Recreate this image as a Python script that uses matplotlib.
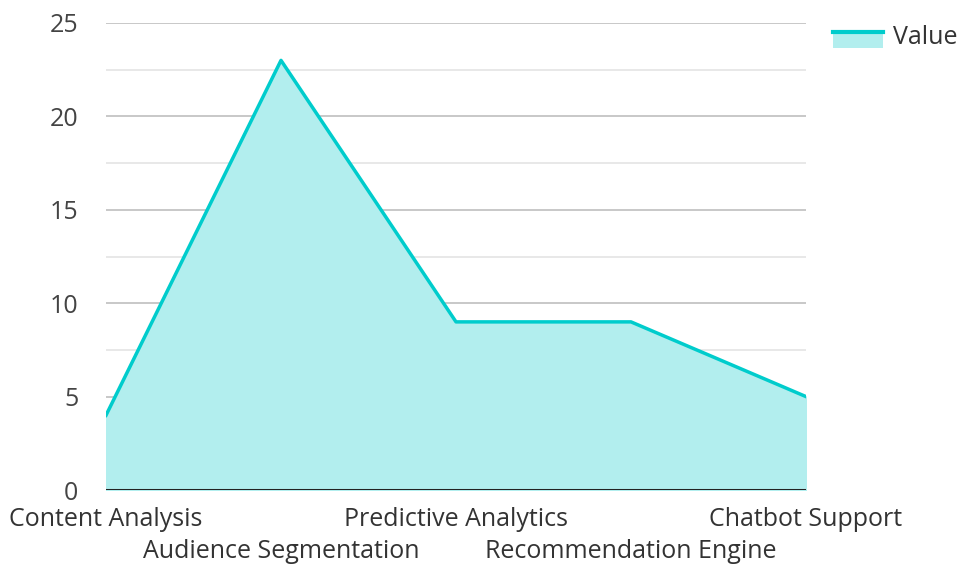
import matplotlib.pyplot as plt
from matplotlib.patches import Patch, Rectangle
from matplotlib.lines import Line2D
from matplotlib.legend_handler import HandlerBase

categories = ["Content Analysis", "Audience Segmentation", "Predictive Analytics",
              "Recommendation Engine", "Chatbot Support"]
values = [4, 23, 9, 9, 5]
y_ticks = [0, 5, 10, 15, 20, 25]

LINE = "#00cccc"
FILL = "#b2eeee"

plt.rcParams['font.family'] = ['Open Sans', 'DejaVu Sans']


class AreaHandler(HandlerBase):
    # filled box with the line along its top edge
    def create_artists(self, legend, orig_handle, xdescent, ydescent,
                       width, height, fontsize, trans):
        rect = Rectangle((-xdescent, -ydescent - 0.25 * height), width, height * 0.95,
                         facecolor=FILL, edgecolor="none", transform=trans)
        top = -ydescent + 0.7 * height
        line = Line2D([-xdescent, -xdescent + width], [top, top], color=LINE,
                      linewidth=3, transform=trans)
        return [rect, line]


fig = plt.figure(figsize=(9.57, 5.64), dpi=100)
ax = fig.add_axes([106 / 957, 1 - 490 / 564, 700 / 957, 467 / 564])

x = list(range(len(categories)))
ax.fill_between(x, values, 0, color=FILL, zorder=2)
ax.plot(x, values, color=LINE, linewidth=2.5, zorder=3)

ax.set_xlim(0, len(categories) - 1)
ax.set_ylim(0, 25)

# grid: darker major every 5, lighter minor every 2.5
for v in y_ticks[1:]:
    ax.axhline(v, color="#c4c4c4", linewidth=1.3, zorder=1)
for v in [2.5, 7.5, 12.5, 17.5, 22.5]:
    ax.axhline(v, color="#e6e6e6", linewidth=1.3, zorder=1)
ax.axhline(0, color="#222222", linewidth=2.2, zorder=4)

ax.set_yticks(y_ticks)
ax.set_yticklabels([str(t) for t in y_ticks], fontsize=18, color="#444444")
ax.set_xticks(x)
ax.set_xticklabels(categories, fontsize=18, color="#333333")
for i, lbl in enumerate(ax.get_xticklabels()):
    if i % 2 == 1:
        lbl.set_y(-0.07)
ax.tick_params(axis="y", length=0, pad=20)
ax.tick_params(axis="x", length=0, pad=12)
for s in ax.spines.values():
    s.set_visible(False)

leg = fig.legend([Patch()], ["Value"], loc="upper left",
                 bbox_to_anchor=(833 / 957, 1 - 25 / 564),
                 frameon=False, fontsize=18, handlelength=2.0, handletextpad=0.4,
                 borderpad=0, borderaxespad=0,
                 handler_map={Patch: AreaHandler()})
for t in leg.get_texts():
    t.set_color("#333333")

fig.savefig("out.png", dpi=100)
